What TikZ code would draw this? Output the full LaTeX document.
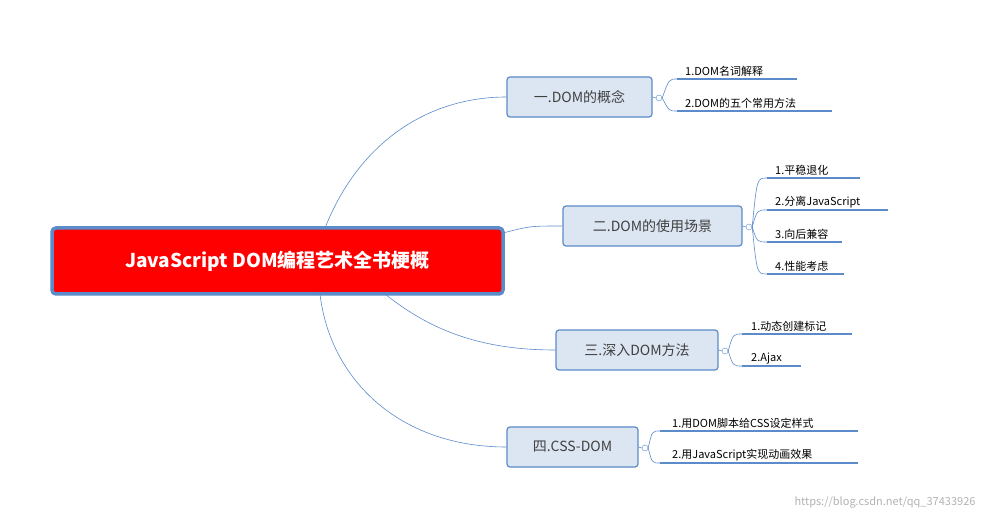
\documentclass[tikz,border=0pt]{standalone}
\usepackage{fontspec}
\setmainfont{Noto Sans CJK SC}
\definecolor{lineblue}{HTML}{5B8BC9}
\definecolor{boxfill}{HTML}{DCE6F2}
\definecolor{rootred}{HTML}{FF0000}
\tikzset{
  topic/.style={draw=lineblue, fill=boxfill, rounded corners=3pt, line width=1.2pt, font=\fontsize{14}{16}\selectfont, text=black!75, inner sep=0pt},
  leaf/.style={font=\fontsize{11}{13}\selectfont, anchor=south west, inner sep=1pt},
  uline/.style={draw=lineblue, line width=1.5pt},
  link/.style={draw=lineblue, line width=0.6pt},
  knob/.style={circle, draw=lineblue, fill=white, minimum size=6pt, inner sep=0pt}
}
\begin{document}
\begin{tikzpicture}[x=1pt,y=-1pt]
  \useasboundingbox (0,0) rectangle (986,521);
  % root
  \node[draw=lineblue, line width=3.5pt, fill=rootred, rounded corners=4pt, minimum width=451pt, minimum height=66pt,
        text=white, font=\bfseries\fontsize{19}{22}\selectfont] (root) at (277.5,261) {JavaScript DOM编程艺术全书梗概};
  % topics
  \node[topic, minimum width=145pt, minimum height=40pt] (t1) at (579.5,97) {一.DOM的概念};
  \node[topic, minimum width=179pt, minimum height=40pt] (t2) at (652.5,226) {二.DOM的使用场景};
  \node[topic, minimum width=162pt, minimum height=40pt] (t3) at (637,350) {三.深入DOM方法};
  \node[topic, minimum width=131pt, minimum height=40pt] (t4) at (572.5,447) {四.CSS-DOM};
  \coordinate (r1) at (325,228);
  \coordinate (r2) at (503,233);
  \coordinate (r3) at (385,294);
  \coordinate (r4) at (320,294);
  \draw[link] (r1) .. controls (360,140) and (430,97) .. (t1.west);
  \draw[link] (r2) .. controls (530,226) .. (t2.west);
  \draw[link] (r3) .. controls (430,330) and (480,350) .. (t3.west);
  \draw[link] (r4) .. controls (330,380) and (400,447) .. (t4.west);
  % knobs
  \node[knob] (k1) at (659,98) {};
  \node[knob] (k2) at (749,227) {};
  \node[knob] (k3) at (725,351) {};
  \node[knob] (k4) at (645,448) {};
  \foreach \k in {1,...,4} \draw[link] (t\k.east) -- (k\k.west);
  % leaves group 1
  \foreach \n/\y/\e/\txt in {a/79/797/1.DOM名词解释, b/111/832/2.DOM的五个常用方法}{
    \coordinate (l1\n) at (677,\y);
    \coordinate (e1\n) at (\e,\y);
    \draw[uline] (l1\n) -- (e1\n);
    \node[leaf] (x1\n) at (684,\y-1) {\txt};
    \draw[link] (k1.east) .. controls (669,\y) .. (l1\n);
  }
  % leaves group 2
  \foreach \n/\y/\e/\txt in {a/178/860/1.平稳退化, b/210/888/2.分离JavaScript, c/242/842/3.向后兼容, d/274/844/4.性能考虑}{
    \coordinate (l2\n) at (767,\y);
    \coordinate (e2\n) at (\e,\y);
    \draw[uline] (l2\n) -- (e2\n);
    \node[leaf] (x2\n) at (774,\y-1) {\txt};
    \draw[link] (k2.east) .. controls (757,\y) .. (l2\n);
  }
  % leaves group 3
  \foreach \n/\y/\e/\txt in {a/334/852/1.动态创建标记, b/366/801/2.Ajax}{
    \coordinate (l3\n) at (742,\y);
    \coordinate (e3\n) at (\e,\y);
    \draw[uline] (l3\n) -- (e3\n);
    \node[leaf] (x3\n) at (750,\y-1) {\txt};
    \draw[link] (k3.east) .. controls (733,\y) .. (l3\n);
  }
  % leaves group 4
  \foreach \n/\y/\e/\txt in {a/431/858/1.用DOM脚本给CSS设定样式, b/463/858/2.用JavaScript实现动画效果}{
    \coordinate (l4\n) at (660,\y);
    \coordinate (e4\n) at (\e,\y);
    \draw[uline] (l4\n) -- (e4\n);
    \node[leaf] (x4\n) at (671,\y-1) {\txt};
    \draw[link] (k4.east) .. controls (652,\y) .. (l4\n);
  }
  % watermark
  \node[text=black!30, font=\fontsize{11}{13}\selectfont, anchor=east] (wm) at (979,502) {https://blog.csdn.net/qq\_37433926};
\end{tikzpicture}
\end{document}
